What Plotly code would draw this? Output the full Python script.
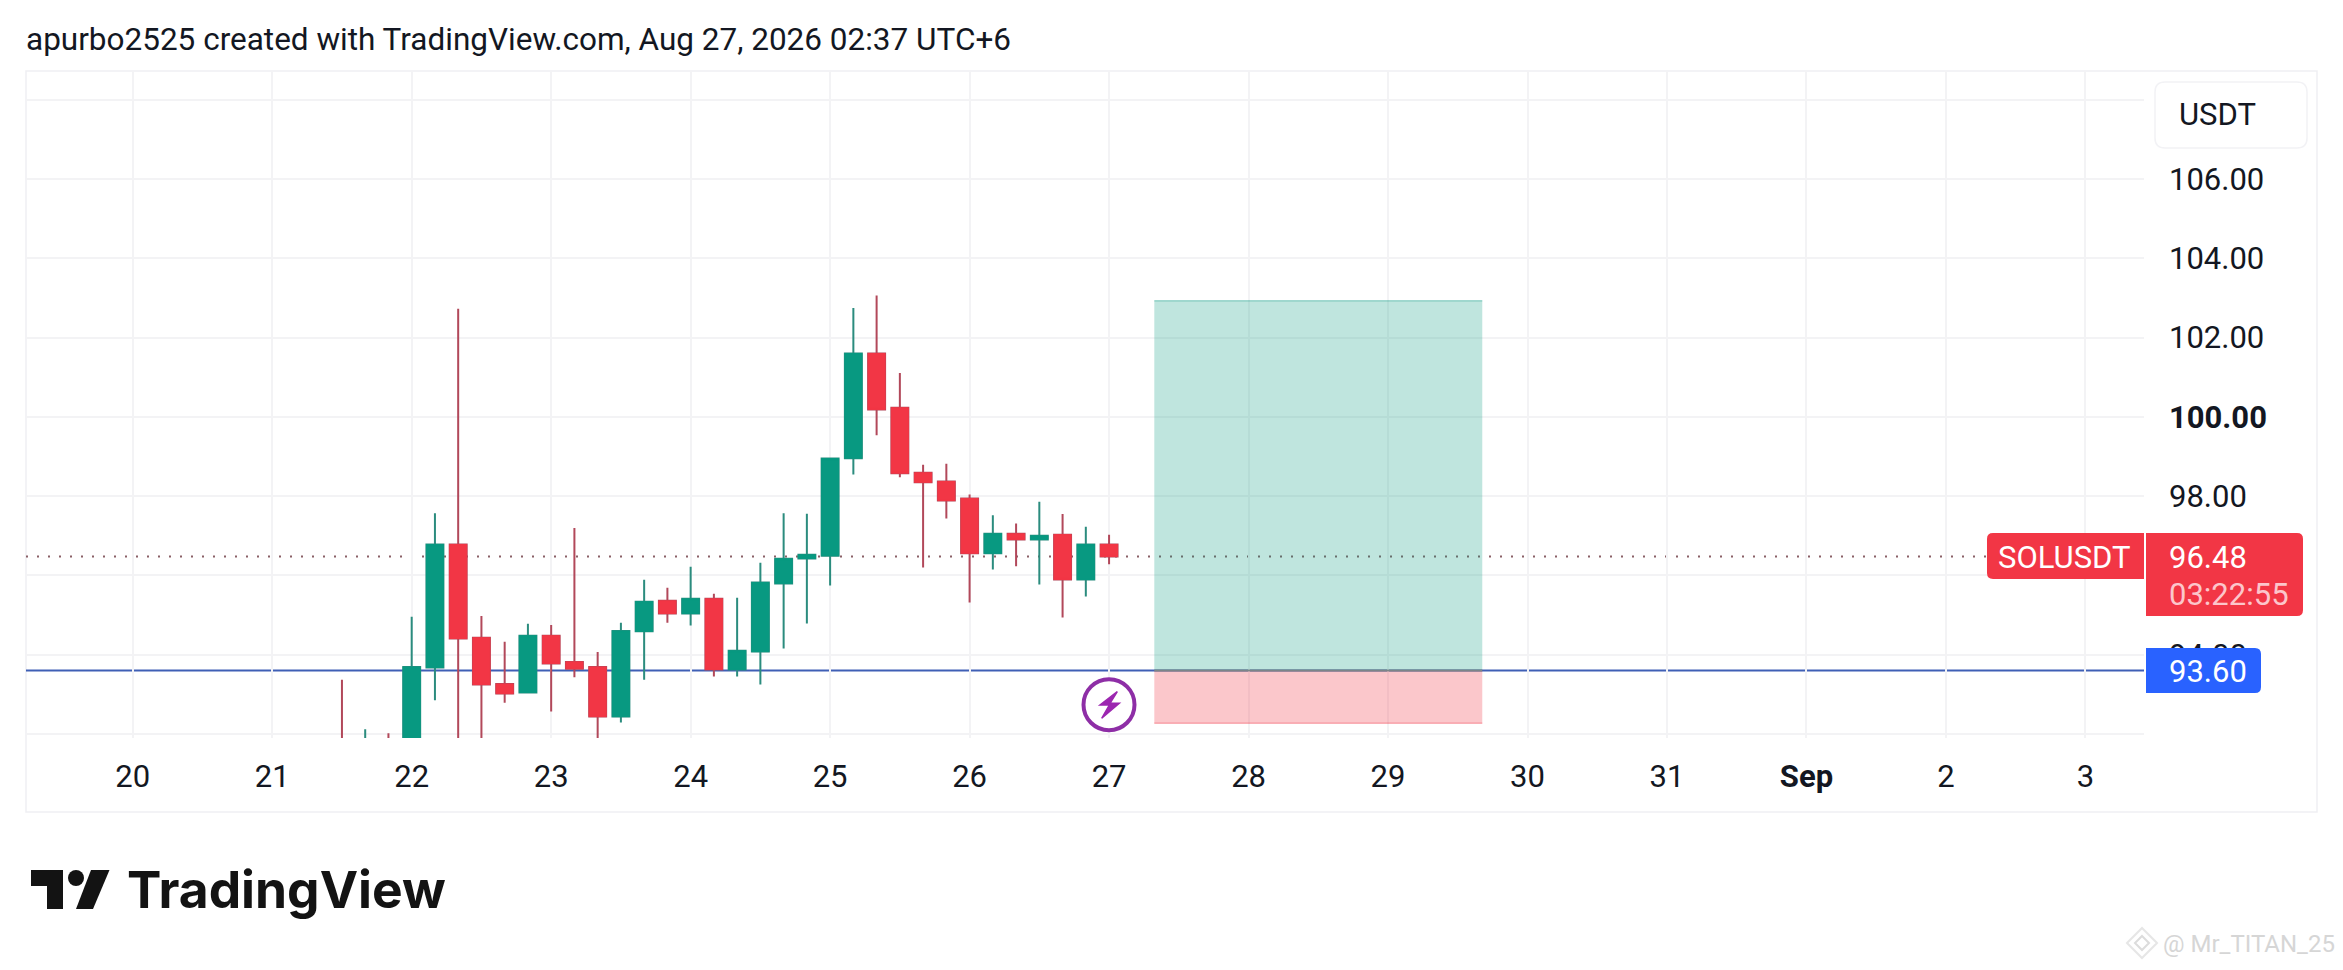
import plotly.graph_objects as go
import pandas as pd

W, H = 2343, 970

# --- data: 4h SOLUSDT candles ---
START = "2026-08-21 12:00"
opens = [91.60, 91.50, 91.40, 91.50, 93.68, 96.78, 94.43, 93.26, 93.05, 94.48, 93.82, 93.69, 92.44, 94.59, 95.36, 95.04,
         95.41, 93.63, 94.08, 95.80, 96.43, 96.50, 98.96, 101.60, 100.23, 98.59, 98.37, 97.94, 96.56, 97.05, 96.91, 97.03, 95.90, 96.78]
highs = [93.37, 92.12, 92.02, 94.96, 97.57, 102.73, 94.98, 94.33, 94.78, 94.75, 97.20, 94.07, 94.81, 95.89, 95.69, 96.22,
         95.54, 95.44, 96.32, 97.57, 97.56, 98.96, 102.75, 103.06, 101.11, 98.79, 98.82, 98.04, 97.52, 97.31, 97.86, 97.55, 97.23, 97.03]
lows = [91.00, 91.20, 91.10, 91.30, 92.85, 91.50, 91.60, 92.79, 93.05, 92.57, 93.43, 91.70, 92.29, 93.37, 94.81, 94.74,
        93.45, 93.45, 93.25, 94.16, 94.79, 95.75, 98.55, 99.54, 98.48, 96.20, 97.44, 95.32, 96.15, 96.23, 95.77, 94.94, 95.47, 96.28]
closes = [91.30, 91.70, 91.20, 93.69, 96.78, 94.41, 93.25, 93.02, 94.48, 93.78, 93.65, 92.44, 94.60, 95.34, 95.04, 95.41,
          93.63, 94.10, 95.82, 96.42, 96.52, 98.95, 101.60, 100.19, 98.58, 98.35, 97.89, 96.56, 97.05, 96.91, 97.00, 95.90, 96.78, 96.48]
times = pd.date_range(START, periods=len(opens), freq="4h")

last_price = 96.48
alert_price = 93.60
target_price = 102.93
stop_price = 92.27
box_start = "2026-08-27 07:47"
box_end = "2026-08-29 16:13"

y_ticks = [108, 106, 104, 102, 100, 98, 96, 94, 92]
y_labels = ["", "106.00", "104.00", "102.00", "<b>100.00</b>", "98.00", "", "94.00", ""]
x_ticks = ["2026-08-%02d" % d for d in range(20, 32)] + ["2026-09-%02d" % d for d in (1, 2, 3)]
x_labels = [str(d) for d in range(20, 32)] + ["<b>Sep</b>", "2", "3"]
x_range = ["2026-08-19 05:38", "2026-09-03 10:05"]
y_range = [91.900, 108.726]

GREEN, RED, BLUE = "#089981", "#F23645", "#2962FF"
WICK_G, WICK_R = "#2b8c7e", "#b2485a"
GRID = "#f3f3f5"
FRAME = "#f0f0f3"
TXT = "#131722"
FONT = "Roboto"
FS = 31

PL, PR, PT, PB = 26, 2144, 71, 738


def px(x):
    return x / W


def py(y):
    return 1 - y / H


def pt(x, y):
    return f"{px(x):.6f},{py(y):.6f}"


def rrect(x0, y0, x1, y1, tl=0, tr=0, br=0, bl=0):
    return (f"M {pt(x0 + tl, y0)} L {pt(x1 - tr, y0)} Q {pt(x1, y0)} {pt(x1, y0 + tr)} "
            f"L {pt(x1, y1 - br)} Q {pt(x1, y1)} {pt(x1 - br, y1)} "
            f"L {pt(x0 + bl, y1)} Q {pt(x0, y1)} {pt(x0, y1 - bl)} "
            f"L {pt(x0, y0 + tl)} Q {pt(x0, y0)} {pt(x0 + tl, y0)} Z")


def poly(points):
    return "M " + " L ".join(pt(x, y) for x, y in points) + " Z"


def paper_path(path, fill=None, line=None, lw=0):
    return dict(type="path", xref="paper", yref="paper", path=path,
                fillcolor=fill if fill else "rgba(0,0,0,0)",
                line=dict(color=line if line else "rgba(0,0,0,0)", width=lw), layer="above")


def label(x, y, text, size=FS, color=TXT, anchor="left", **font):
    return dict(xref="paper", yref="paper", x=px(x), y=py(y), text=text, showarrow=False,
                xanchor=anchor, yanchor="middle", align=anchor,
                font=dict(family=font.pop("family", FONT), size=size, color=color, **font),
                borderpad=0, borderwidth=0)


def diamond(cx, cy, r):
    return poly([(cx, cy - r), (cx + r, cy), (cx, cy + r), (cx - r, cy)])


fig = go.Figure()
# wicks
fig.add_trace(go.Candlestick(
    x=times, open=opens, high=highs, low=lows, close=closes,
    increasing=dict(line=dict(color=WICK_G, width=2), fillcolor=WICK_G),
    decreasing=dict(line=dict(color=WICK_R, width=2), fillcolor=WICK_R),
    showlegend=False, hoverinfo="skip"))
# bodies
fig.add_trace(go.Candlestick(
    x=times, open=opens, close=closes,
    high=[max(o, c) for o, c in zip(opens, closes)],
    low=[min(o, c) for o, c in zip(opens, closes)],
    increasing=dict(line=dict(color=GREEN, width=1), fillcolor=GREEN),
    decreasing=dict(line=dict(color=RED, width=1), fillcolor=RED),
    showlegend=False, hoverinfo="skip"))

shapes = [
    # outer frame
    dict(type="rect", xref="paper", yref="paper", x0=px(26), x1=px(2317), y0=py(812), y1=py(71),
         line=dict(color=FRAME, width=1.5), fillcolor="rgba(0,0,0,0)", layer="below"),
    # alert line and last-price line
    dict(type="line", xref="paper", yref="y", x0=px(PL), x1=px(PR), y0=alert_price, y1=alert_price,
         line=dict(color="#3f5fb5", width=2), layer="between"),
    # position box
    dict(type="rect", xref="x", yref="y", x0=box_start, x1=box_end, y0=alert_price, y1=target_price,
         fillcolor="rgba(8,153,129,0.26)", line=dict(width=0), layer="between"),
    dict(type="rect", xref="x", yref="y", x0=box_start, x1=box_end, y0=stop_price, y1=alert_price,
         fillcolor="rgba(242,54,69,0.28)", line=dict(width=0), layer="between"),
    dict(type="line", xref="x", yref="y", x0=box_start, x1=box_end, y0=target_price, y1=target_price,
         line=dict(color="rgba(8,153,129,0.35)", width=1.5), layer="between"),
    dict(type="line", xref="x", yref="y", x0=box_start, x1=box_end, y0=stop_price, y1=stop_price,
         line=dict(color="rgba(242,54,69,0.35)", width=1.5), layer="between"),
    dict(type="line", xref="x", yref="y", x0=box_start, x1=box_end, y0=alert_price, y1=alert_price,
         line=dict(color="#7c8588", width=2), layer="between"),
    dict(type="line", xref="paper", yref="y", x0=px(PL), x1=px(1987), y0=last_price, y1=last_price,
         line=dict(color="#8a5f66", width=2, dash="2px,9px"), layer="between"),
    # badges
    paper_path(rrect(2155, 82, 2307, 148, 10, 10, 10, 10), fill="#ffffff", line="#f2f2f5", lw=1.5),
    paper_path(rrect(1987, 533, 2144, 579, 6, 0, 0, 6), fill=RED),
    paper_path(rrect(2146, 533, 2303, 616, 0, 6, 6, 0), fill=RED),
    paper_path(rrect(2146, 648, 2261, 693, 0, 6, 6, 0), fill=BLUE),
    # bolt icon
    dict(type="circle", xref="paper", yref="paper", x0=px(1109 - 25.5), x1=px(1109 + 25.5),
         y0=py(704.7 + 25.5), y1=py(704.7 - 25.5), line=dict(color="#8e2ea6", width=4),
         fillcolor="#ffffff", layer="above"),
    paper_path(poly([(1117.3, 691.7), (1100, 705), (1109.3, 705), (1101.7, 718.3), (1119.3, 703.3), (1110, 703.3)]),
               fill="#9c27b0", line="#9c27b0", lw=1.5),
    # TradingView logo mark
    paper_path(poly([(31, 870), (63, 870), (63, 909), (47, 909), (47, 886), (31, 886)]), fill="#131313"),
    dict(type="circle", xref="paper", yref="paper", x0=px(68), x1=px(84), y0=py(886), y1=py(870),
         fillcolor="#131313", line=dict(width=0), layer="above"),
    paper_path(poly([(91, 870), (109.5, 870), (93, 909), (76, 909)]), fill="#131313"),
    # watermark icon
    paper_path(diamond(2142, 943, 7), line="#dcdcdc", lw=2),
    paper_path(diamond(2142, 943, 15), line="#e6e6e6", lw=2),
]

annotations = [
    label(26, 40, "apurbo2525 created with TradingView.com, Aug 27, 2026 02:37 UTC+6", size=31.5),
    label(2179, 114, "USDT"),
    label(1998, 557, "SOLUSDT", color="#ffffff"),
    label(2169, 557, f"{last_price:.2f}", color="#ffffff"),
    label(2169, 594, "03:22:55", color="#fcc6cb"),
    label(2169, 671, f"{alert_price:.2f}", color="#ffffff"),
    label(127, 889, "TradingView", size=51.5, color="#131313", family="Inter", weight=700),
    label(2163, 944, "@ Mr_TITAN_25", size=24, color="#d6d6d6"),
]

fig.update_layout(
    width=W, height=H, margin=dict(l=0, r=0, t=0, b=0),
    paper_bgcolor="#ffffff", plot_bgcolor="#ffffff",
    boxmode="overlay", boxgap=0.27, boxgroupgap=0, showlegend=False, hovermode=False,
    shapes=shapes, annotations=annotations,
    font=dict(family=FONT, size=FS, color=TXT),
    xaxis=dict(domain=[px(PL), px(PR)], type="date", range=x_range, rangeslider=dict(visible=False),
               tickmode="array", tickvals=x_ticks, ticktext=x_labels, showgrid=True, gridcolor=GRID,
               gridwidth=1.5, zeroline=False, showline=False, ticks="", ticklabelstandoff=17,
               tickangle=0, tickfont=dict(family=FONT, size=FS, color=TXT)),
    yaxis=dict(domain=[py(PB), py(PT)], range=y_range, side="right", tickmode="array", tickvals=y_ticks,
               ticktext=y_labels, showgrid=True, gridcolor=GRID, gridwidth=1.5, zeroline=False,
               showline=False, ticks="", ticklabelstandoff=24, tickfont=dict(family=FONT, size=FS, color=TXT)),
)

fig.write_html("out.html", config=dict(displayModeBar=False),
               post_script="document.body.style.margin='0';document.documentElement.style.overflow='hidden';")
